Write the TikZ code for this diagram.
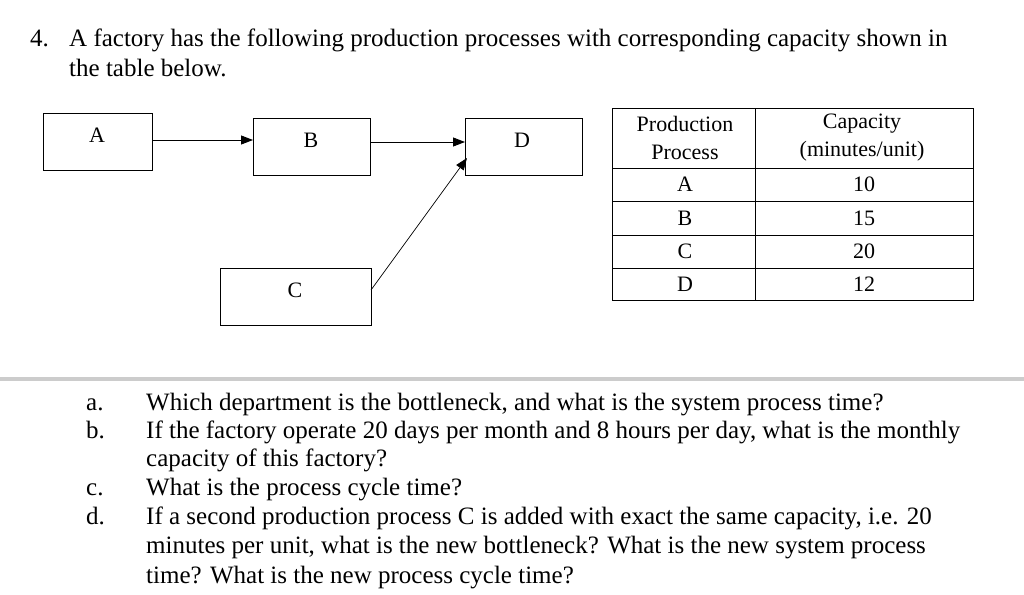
\documentclass[tikz,border=0pt]{standalone}
\usepackage{fontspec}
\usetikzlibrary{arrows.meta}
\setmainfont{Liberation Serif}
\begin{document}
\begin{tikzpicture}[x=1pt,y=-1pt,
  box/.style={draw,line width=0.9pt},
  lbl/.style={anchor=base west,inner sep=0pt,font=\fontsize{25}{29}\selectfont},
  cell/.style={inner sep=0pt,font=\fontsize{22}{26}\selectfont,align=center},
  arr/.style={-{Triangle[length=12pt,width=9pt]},line width=0.9pt}]
\useasboundingbox (0,0) rectangle (1024,594);
\node[lbl] (n4) at (30,47) {4.};
\node[lbl] (t1) at (69,47) {A factory has the following production processes with corresponding capacity shown in};
\node[lbl] (t2) at (69,76) {the table below.};
% boxes
\draw[box] (43,113) rectangle (152,170);
\draw[box] (253,118) rectangle (370,175);
\draw[box] (465,118) rectangle (582,175);
\draw[box] (220,268) rectangle (371,325);
\node[cell] (A) at (97,135) {A};
\node[cell] (B) at (311,140) {B};
\node[cell] (D) at (522,140) {D};
\node[cell] (C) at (295,290) {C};
\coordinate (ar) at (152,140); \coordinate (bl) at (253,140);
\coordinate (br) at (370,142); \coordinate (dl) at (465,142);
\coordinate (cr) at (371,290); \coordinate (dd) at (467,158);
\draw[arr] (ar) -- (bl);
\draw[arr] (br) -- (dl);
\draw[arr,line width=0.7pt] (cr) -- (dd);
% table
\draw[line width=0.9pt] (612,108) rectangle (973,300);
\draw[line width=0.9pt] (755,108) -- (755,300);
\foreach \yy in {168,201,235,268} \draw[line width=0.9pt] (612,\yy) -- (973,\yy);
\node[cell] (h1) at (685,138) {Production\\[2pt]Process};
\node[cell] (h2) at (862,138) {Capacity\\[2pt](minutes/unit)};
\foreach \p/\c/\yy in {A/10/184,B/15/218,C/20/251,D/12/284}{
  \node[cell] (p\p) at (685,\yy) {\p};
  \node[cell] (c\p) at (864,\yy) {\c};}
% rule
\fill[black!20] (0,377) rectangle (1024,381);
% questions
\foreach \l/\yy in {a./410,b./438,c./495,d./524}
  \node[lbl] (q\l) at (86,\yy) {\l};
\node[lbl] (qa) at (146,410) {Which department is the bottleneck, and what is the system process time?};
\node[lbl] (qb) at (146,438) {If the factory operate 20 days per month and 8 hours per day, what is the monthly};
\node[lbl] (qb2) at (146,466) {capacity of this factory?};
\node[lbl] (qc) at (146,495) {What is the process cycle time?};
\node[lbl] (qd) at (146,524) {If a second production process C is added with exact the same capacity, i.e. 20};
\node[lbl] (qd2) at (146,553) {minutes per unit, what is the new bottleneck? What is the new system process};
\node[lbl] (qd3) at (146,583) {time? What is the new process cycle time?};
\end{tikzpicture}
\end{document}
